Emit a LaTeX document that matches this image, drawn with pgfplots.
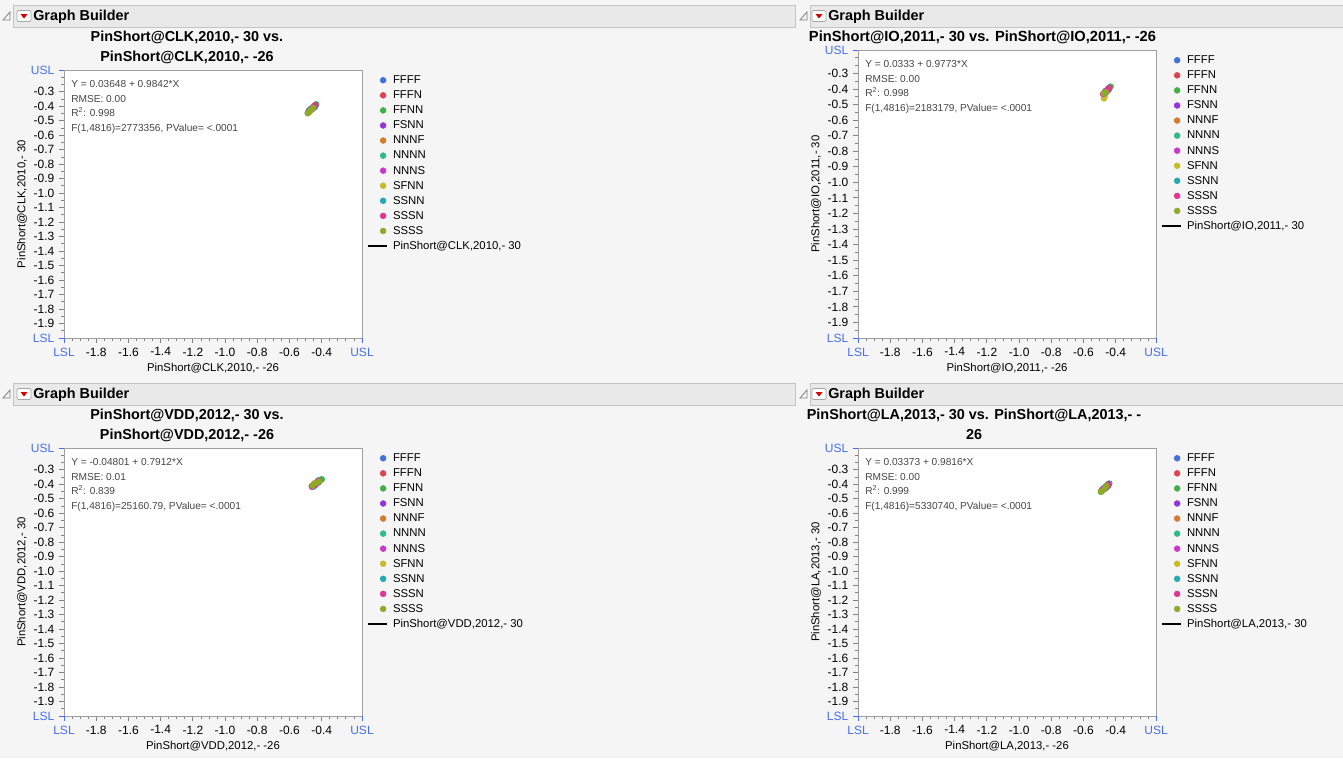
\documentclass[border=0pt]{standalone}
\usepackage{fontspec}
\setmainfont{Liberation Sans}
\usepackage{pgfplots}
\pgfplotsset{compat=1.18}
\definecolor{bg}{RGB}{245,245,245}
\definecolor{hdr}{RGB}{233,233,233}
\definecolor{hdrline}{RGB}{196,196,196}
\definecolor{framegray}{RGB}{160,160,160}
\definecolor{tickgray}{RGB}{130,130,130}
\definecolor{statgray}{RGB}{70,70,70}
\definecolor{jmpblue}{RGB}{70,110,250}
\definecolor{c1}{RGB}{66,113,219}
\definecolor{c2}{RGB}{221,67,80}
\definecolor{c3}{RGB}{66,176,72}
\definecolor{c4}{RGB}{146,52,222}
\definecolor{c5}{RGB}{211,124,44}
\definecolor{c6}{RGB}{45,186,140}
\definecolor{c7}{RGB}{204,54,205}
\definecolor{c8}{RGB}{200,188,40}
\definecolor{c9}{RGB}{36,170,180}
\definecolor{c10}{RGB}{225,54,150}
\definecolor{c11}{RGB}{143,170,40}
\newcommand\ser[3]{\addplot[only marks, mark=*, mark size=2.2pt, color=#1] coordinates {#3}; \addlegendentry{#2}}
\newcommand\fit[2]{\addplot[black, line width=0.8pt, legend image code/.code={\draw[black,line width=1.3pt] (0pt,0pt) -- (14.25pt,0pt);}] coordinates {#2}; \addlegendentry{#1}}
\tikzset{stat/.style={anchor=north west, align=left, inner sep=0pt, font=\fontsize{7.6}{11}\selectfont, text=statgray, xshift=5.25pt, yshift=-7.5pt}}
\pgfplotsset{
 jmp/.style={
  scale only axis,
  width=223.5pt,
  xmin=-2, xmax=-0.15, ymin=-2, ymax=-0.15,
  axis line style={draw=framegray, line width=0.75pt},
  axis background/.style={fill=white},
  tick align=outside,
  xtick pos=bottom, ytick pos=left,
  major tick length=3.75pt, minor tick length=2.25pt,
  major tick style={draw=tickgray, line width=0.6pt},
  minor tick style={draw=tickgray, line width=0.6pt},
  xtick={-1.8,-1.6,-1.4,-1.2,-1,-0.8,-0.6,-0.4},
  xticklabels={-1.8,-1.6,-1.4,-1.2,-1.0,-0.8,-0.6,-0.4},
  ytick={-1.9,-1.8,-1.7,-1.6,-1.5,-1.4,-1.3,-1.2,-1.1,-1,-0.9,-0.8,-0.7,-0.6,-0.5,-0.4,-0.3},
  yticklabels={-1.9,-1.8,-1.7,-1.6,-1.5,-1.4,-1.3,-1.2,-1.1,-1.0,-0.9,-0.8,-0.7,-0.6,-0.5,-0.4,-0.3},
  minor xtick={-1.95,-1.9,-1.85,-1.75,-1.7,-1.65,-1.55,-1.5,-1.45,-1.35,-1.3,-1.25,-1.15,-1.1,-1.05,-0.95,-0.9,-0.85,-0.75,-0.7,-0.65,-0.55,-0.5,-0.45,-0.35,-0.3,-0.25,-0.2},
  minor ytick={-1.95,-1.85,-1.75,-1.65,-1.55,-1.45,-1.35,-1.25,-1.15,-1.05,-0.95,-0.85,-0.75,-0.65,-0.55,-0.45,-0.35,-0.25,-0.2},
  extra x ticks={-2,-0.15}, extra x tick labels={LSL,USL},
  extra y ticks={-2,-0.15}, extra y tick labels={LSL,USL},
  extra x tick style={major tick style={draw=jmpblue}, tick label style={text=jmpblue}},
  extra y tick style={major tick style={draw=jmpblue}, tick label style={text=jmpblue}},
  tick label style={font=\fontsize{9}{10}\selectfont},
  every axis x label/.style={at={(axis description cs:0.5,0)}, anchor=center, yshift=-22.5pt, font=\fontsize{8.5}{10}\selectfont},
  every axis y label/.style={at={(axis description cs:0,0.5)}, anchor=center, rotate=90, yshift=31.5pt, font=\fontsize{8.5}{10}\selectfont},
  legend style={at={(axis description cs:1,1)}, anchor=north west, xshift=0.75pt, yshift=-1.5pt, draw=none, fill=none,
    font=\fontsize{8.5}{9}\selectfont, row sep=3.3pt, column sep=3.75pt,
    nodes={inner sep=0pt, text height=6.5pt, text depth=1.5pt}, cells={anchor=west}},
  legend image code/.code={\path[draw=none,fill=none] (0pt,0pt) -- (14.25pt,0pt); \draw[#1] plot coordinates {(11.25pt,0pt)};},
 },
}
\begin{document}
\begin{tikzpicture}
\path[use as bounding box, fill=bg] (0pt,0pt) rectangle (1007.25pt,-568.5pt);
\begin{scope}[x=0.75pt,y=-0.75pt]
\foreach \dy in {0,378}{
  \draw[fill=hdr, draw=hdrline, line width=0.75pt] (13,{5+\dy}) rectangle (795,{27+\dy});
  \draw[fill=hdr, draw=hdrline, line width=0.75pt] (810,{5+\dy}) rectangle (1346,{27+\dy});
  \foreach \dx in {0,797}{
    \draw[gray, line width=0.6pt] ({3+\dx},{20+\dy}) -- ({10+\dx},{20+\dy}) -- ({10+\dx},{12+\dy}) -- cycle;
  }
  \foreach \bx in {17,812}{
    \draw[fill=white, draw=gray!70, line width=0.6pt, rounded corners=1pt] (\bx,{10.5+\dy}) rectangle ({\bx+14},{21.5+\dy});
    \fill[red!85!black] ({\bx+3.5},{14+\dy}) -- ({\bx+10.5},{14+\dy}) -- ({\bx+7},{18.5+\dy}) -- cycle;
  }
  \node[anchor=west, inner sep=0pt, font=\bfseries\fontsize{10.8}{12}\selectfont] at (33,{16.5+\dy}) {Graph Builder};
  \node[anchor=west, inner sep=0pt, font=\bfseries\fontsize{10.8}{12}\selectfont] at (828,{16.5+\dy}) {Graph Builder};
}
\node[font=\bfseries\fontsize{10.8}{12}\selectfont, inner sep=0pt] at (187,37) {PinShort@CLK,2010,- 30 vs.};
\node[font=\bfseries\fontsize{10.8}{12}\selectfont, inner sep=0pt] at (187,57) {PinShort@CLK,2010,- -26};
\node[font=\bfseries\fontsize{11}{12}\selectfont, inner sep=0pt] at (982.5,37) {PinShort@IO,2011,- 30 vs. PinShort@IO,2011,- -26};
\node[font=\bfseries\fontsize{10.8}{12}\selectfont, inner sep=0pt] at (187,415) {PinShort@VDD,2012,- 30 vs.};
\node[font=\bfseries\fontsize{10.8}{12}\selectfont, inner sep=0pt] at (187,435) {PinShort@VDD,2012,- -26};
\node[font=\bfseries\fontsize{10.8}{12}\selectfont, inner sep=0pt] at (974,415) {PinShort@LA,2013,- 30 vs. PinShort@LA,2013,- -};
\node[font=\bfseries\fontsize{10.8}{12}\selectfont, inner sep=0pt] at (974,435) {26};
\end{scope}

% Panel 1: CLK
\begin{axis}[jmp, at={(48pt,-253.5pt)}, anchor=south west, height=201pt,
  xlabel={PinShort@CLK,2010,- -26}, ylabel={PinShort@CLK,2010,- 30}]
\ser{c1}{FFFF}{(-0.470,-0.420) (-0.455,-0.415) (-0.445,-0.402)}
\ser{c2}{FFFN}{(-0.480,-0.431) (-0.462,-0.423) (-0.448,-0.399)}
\ser{c3}{FFNN}{(-0.487,-0.447) (-0.440,-0.392) (-0.434,-0.387)}
\ser{c4}{FSNN}{(-0.475,-0.436) (-0.458,-0.409) (-0.442,-0.402)}
\ser{c5}{NNNF}{(-0.468,-0.428) (-0.452,-0.404)}
\ser{c6}{NNNN}{(-0.478,-0.430) (-0.450,-0.411)}
\ser{c7}{NNNS}{(-0.472,-0.424) (-0.446,-0.407) (-0.460,-0.419)}
\ser{c8}{SFNN}{(-0.476,-0.438) (-0.456,-0.410)}
\ser{c9}{SSNN}{(-0.466,-0.418) (-0.444,-0.404)}
\ser{c10}{SSSN}{(-0.482,-0.442) (-0.463,-0.415) (-0.441,-0.394)}
\ser{c11}{SSSS}{(-0.486,-0.448) (-0.470,-0.430) (-0.454,-0.412)}
\fit{PinShort@CLK,2010,- 30}{(-0.489,-0.4447) (-0.433,-0.3896)}
\node[stat] at (rel axis cs:0,1) {Y = 0.03648 + 0.9842*X\\RMSE: 0.00\\R\textsuperscript{2}: 0.998\\F(1,4816)=2773356, PValue= <.0001};
\end{axis}

% Panel 2: IO
\begin{axis}[jmp, at={(643.5pt,-253.5pt)}, anchor=south west, height=216pt,
  xlabel={PinShort@IO,2011,- -26}, ylabel={PinShort@IO,2011,- 30}]
\ser{c1}{FFFF}{(-0.455,-0.415) (-0.445,-0.397)}
\ser{c2}{FFFN}{(-0.462,-0.424) (-0.450,-0.401)}
\ser{c3}{FFNN}{(-0.432,-0.385) (-0.438,-0.392) (-0.465,-0.416)}
\ser{c4}{FSNN}{(-0.470,-0.431) (-0.458,-0.410) (-0.446,-0.406)}
\ser{c5}{NNNF}{(-0.466,-0.426) (-0.452,-0.405)}
\ser{c6}{NNNN}{(-0.460,-0.413) (-0.442,-0.401)}
\ser{c7}{NNNS}{(-0.476,-0.436) (-0.463,-0.414) (-0.448,-0.408)}
\ser{c8}{SFNN}{(-0.473,-0.461) (-0.468,-0.447)}
\ser{c9}{SSNN}{(-0.464,-0.425) (-0.449,-0.402)}
\ser{c10}{SSSN}{(-0.478,-0.432) (-0.457,-0.418) (-0.441,-0.394)}
\ser{c11}{SSSS}{(-0.474,-0.428) (-0.461,-0.421)}
\fit{PinShort@IO,2011,- 30}{(-0.48,-0.4358) (-0.43,-0.3869)}
\node[stat] at (rel axis cs:0,1) {Y = 0.0333 + 0.9773*X\\RMSE: 0.00\\R\textsuperscript{2}: 0.998\\F(1,4816)=2183179, PValue= <.0001};
\end{axis}

% Panel 3: VDD
\begin{axis}[jmp, at={(48pt,-537pt)}, anchor=south west, height=201pt,
  xlabel={PinShort@VDD,2012,- -26}, ylabel={PinShort@VDD,2012,- 30}]
\ser{c1}{FFFF}{(-0.445,-0.406) (-0.425,-0.381)}
\ser{c2}{FFFN}{(-0.452,-0.404) (-0.432,-0.396)}
\ser{c3}{FFNN}{(-0.400,-0.366) (-0.408,-0.371) (-0.440,-0.394)}
\ser{c4}{FSNN}{(-0.455,-0.413) (-0.435,-0.391) (-0.420,-0.388)}
\ser{c5}{NNNF}{(-0.448,-0.397) (-0.428,-0.390)}
\ser{c6}{NNNN}{(-0.450,-0.416) (-0.422,-0.374)}
\ser{c7}{NNNS}{(-0.460,-0.418) (-0.438,-0.403) (-0.418,-0.376)}
\ser{c8}{SFNN}{(-0.443,-0.400) (-0.430,-0.386)}
\ser{c9}{SSNN}{(-0.446,-0.410) (-0.424,-0.387)}
\ser{c10}{SSSN}{(-0.462,-0.413) (-0.441,-0.405) (-0.426,-0.384)}
\ser{c11}{SSSS}{(-0.457,-0.410) (-0.436,-0.392) (-0.415,-0.381)}
\fit{PinShort@VDD,2012,- 30}{(-0.465,-0.4159) (-0.395,-0.3605)}
\node[stat] at (rel axis cs:0,1) {Y = -0.04801 + 0.7912*X\\RMSE: 0.01\\R\textsuperscript{2}: 0.839\\F(1,4816)=25160.79, PValue= <.0001};
\end{axis}

% Panel 4: LA
\begin{axis}[jmp, at={(643.5pt,-537pt)}, anchor=south west, height=201pt,
  xlabel={PinShort@LA,2013,- -26}, ylabel={PinShort@LA,2013,- 30}]
\ser{c1}{FFFF}{(-0.475,-0.429) (-0.460,-0.422)}
\ser{c2}{FFFN}{(-0.485,-0.446) (-0.465,-0.419) (-0.452,-0.414)}
\ser{c3}{FFNN}{(-0.492,-0.452) (-0.445,-0.400) (-0.440,-0.395)}
\ser{c4}{FSNN}{(-0.480,-0.433) (-0.462,-0.424) (-0.447,-0.401)}
\ser{c5}{NNNF}{(-0.470,-0.432) (-0.455,-0.409)}
\ser{c6}{NNNN}{(-0.482,-0.436) (-0.457,-0.419)}
\ser{c7}{NNNS}{(-0.477,-0.438) (-0.450,-0.404) (-0.466,-0.428)}
\ser{c8}{SFNN}{(-0.479,-0.441) (-0.459,-0.413)}
\ser{c9}{SSNN}{(-0.471,-0.425) (-0.449,-0.411)}
\ser{c10}{SSSN}{(-0.487,-0.440) (-0.468,-0.430) (-0.446,-0.408)}
\ser{c11}{SSSS}{(-0.491,-0.450) (-0.474,-0.436) (-0.458,-0.412)}
\fit{PinShort@LA,2013,- 30}{(-0.495,-0.4522) (-0.44,-0.3982)}
\node[stat] at (rel axis cs:0,1) {Y = 0.03373 + 0.9816*X\\RMSE: 0.00\\R\textsuperscript{2}: 0.999\\F(1,4816)=5330740, PValue= <.0001};
\end{axis}
\end{tikzpicture}
\end{document}
